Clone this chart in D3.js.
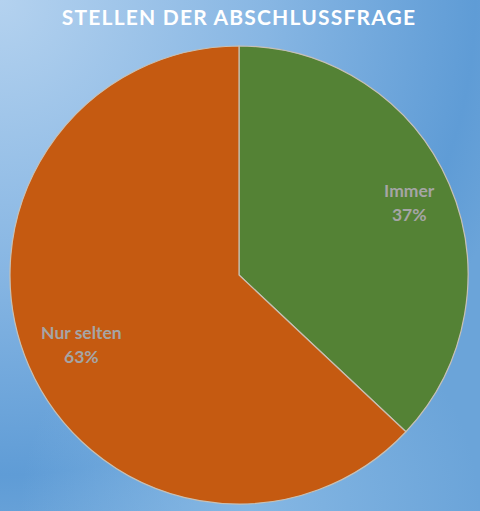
<!DOCTYPE html>
<html><head><meta charset="utf-8">
<script src="https://cdn.jsdelivr.net/npm/d3@7"></script>
<style>html,body{margin:0;padding:0;overflow:hidden;}</style>
</head><body>
<script>
const title = "STELLEN DER ABSCHLUSSFRAGE";
const categories = ["Immer", "Nur selten"];
const values = [37, 63];
const colors = ["#548235", "#C55A11"];

const W = 480, H = 511;
const svg = d3.select("body").append("svg").attr("width", W).attr("height", H);
const defs = svg.append("defs");
const rg0 = defs.append("radialGradient").attr("id","bg").attr("gradientUnits","userSpaceOnUse")
  .attr("cx",0).attr("cy",0).attr("r",540);
rg0.append("stop").attr("offset","0").attr("stop-color","#b4d2ef");
rg0.append("stop").attr("offset","0.5").attr("stop-color","#87b6e3");
rg0.append("stop").attr("offset","0.88").attr("stop-color","#5f9cd6");
rg0.append("stop").attr("offset","1").attr("stop-color","#6ba4d9");
svg.append("rect").attr("width",W).attr("height",H).attr("fill","url(#bg)");
const rg = defs.append("radialGradient").attr("id","bg2").attr("gradientUnits","userSpaceOnUse")
  .attr("cx",250).attr("cy",511).attr("r",230);
rg.append("stop").attr("offset","0").attr("stop-color","#8cbce6").attr("stop-opacity",0.8);
rg.append("stop").attr("offset","1").attr("stop-color","#8cbce6").attr("stop-opacity",0);
svg.append("rect").attr("width",W).attr("height",H).attr("fill","url(#bg2)");

svg.append("text").attr("x",239).attr("y",25).attr("text-anchor","middle")
  .attr("font-family","Lato, 'Open Sans', sans-serif").attr("font-weight","bold")
  .attr("font-size",21).attr("letter-spacing",1.2).attr("fill","#ffffff").text(title);

const cx = 239, cy = 275, R = 229;
const pie = d3.pie().sort(null).value(d => d.v);
const data = pie(categories.map((c,i)=>({c, v: values[i], col: colors[i]})));
const arc = d3.arc().innerRadius(0).outerRadius(R);
const g = svg.append("g").attr("transform",`translate(${cx},${cy})`);
g.selectAll("path").data(data).enter().append("path")
  .attr("d", arc).attr("fill", d=>d.data.col).attr("stroke","#c8c0b4").attr("stroke-width",1.2);

const labelR = [0.81, 0.75];
const lab = g.selectAll("text.lab").data(data).enter().append("text")
  .attr("class","lab").attr("text-anchor","middle")
  .attr("font-family","Lato, 'Open Sans', sans-serif").attr("font-weight","bold")
  .attr("font-size",17.5).attr("fill","#a5a5a5")
  .attr("transform", (d,i) => {
    const r = R*labelR[i];
    const [x,y] = d3.arc().innerRadius(r).outerRadius(r).centroid(d);
    return `translate(${x},${y})`; });
lab.append("tspan").attr("x",0).attr("dy","-0.25em").text(d=>d.data.c);
lab.append("tspan").attr("x",0).attr("dy","1.4em").text(d=>d.data.v+"%");
</script>
</body></html>
